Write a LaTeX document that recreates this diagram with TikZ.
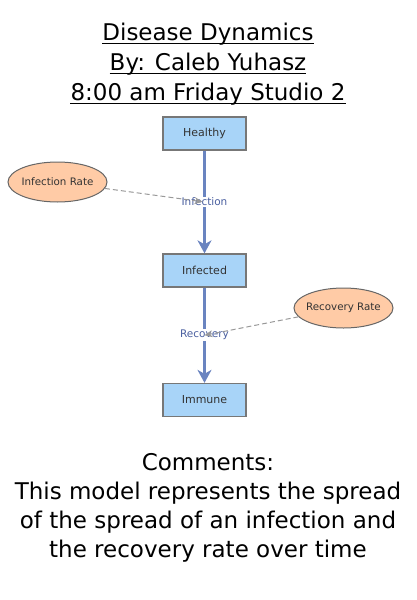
\documentclass[tikz,border=0pt]{standalone}
\usepackage{fontspec}
\setmainfont{DejaVu Sans}
\usetikzlibrary{arrows.meta,shapes.geometric}
\definecolor{stockfill}{HTML}{A8D4F8}
\definecolor{stockline}{HTML}{777777}
\definecolor{varfill}{HTML}{FFCBA6}
\definecolor{flowblue}{HTML}{6A84C0}
\definecolor{flowtext}{HTML}{4A5FA0}
\tikzset{
  stock/.style={draw=stockline,fill=stockfill,line width=1.3pt,minimum width=83pt,minimum height=33pt,font=\fontsize{11}{13}\selectfont,text=black!80},
  ratevar/.style={ellipse,draw=black!60,fill=varfill,line width=1pt,minimum width=99pt,minimum height=40pt,inner xsep=-4pt,inner ysep=0pt,font=\fontsize{10.3}{12}\selectfont,text=black!80},
  flow/.style={draw=flowblue,line width=2.8pt,-{Stealth[length=13pt,width=14pt,inset=4pt]}},
  flowlabel/.style={fill=white,inner sep=1pt,text=flowtext,font=\fontsize{10.5}{12}\selectfont},
  link/.style={draw=black!40,line width=1pt,dash pattern=on 5pt off 3pt,-{Stealth[length=8pt,width=7pt]}},
  heading/.style={inner sep=0pt,font=\fontsize{23}{27}\selectfont},
  underl/.style={line width=1.4pt},
}
\begin{document}
\begin{tikzpicture}[x=1pt,y=-1pt]
   \useasboundingbox (0,0) rectangle (416,600);
   % title
   \node[heading] (title1) at (208,34) {Disease Dynamics\ };
   \node[heading] (title2) at (208,64) {By: Caleb Yuhasz};
   \node[heading] (title3) at (208,94) {8:00 am Friday Studio 2};
   \foreach \t in {title1,title2,title3}
     \draw[underl] ([yshift=-3pt]\t.base west) -- ([yshift=-3pt]\t.base east);

   % stocks
   \node[stock] (healthy) at (204.5,133.5) {Healthy};
   \node[stock] (infected) at (204.5,270.5) {Infected};
   \node[stock] (immune) at (204.5,400) {Immune};

   % rate variables
   \node[ratevar] (infrate) at (57.5,182) {Infection Rate};
   \node[ratevar] (recrate) at (343.5,308) {Recovery Rate};

   % flows
   \draw[flow] (healthy) to node[flowlabel] (infection) {Infection} (infected);
   \draw[flow] (infected) to node[flowlabel] (recovery) {Recovery} (immune);

   % links
   \draw[link,shorten >=2pt] (infrate) to (infection.center);
   \draw[link] (recrate) to (recovery.center);

   % comments
   \node[align=center,font=\fontsize{23}{28.8}\selectfont] (comments) at (208,508)
     {Comments:\\This model represents the spread\\of the spread of an infection and\\the recovery rate over time};
\end{tikzpicture}
\end{document}
